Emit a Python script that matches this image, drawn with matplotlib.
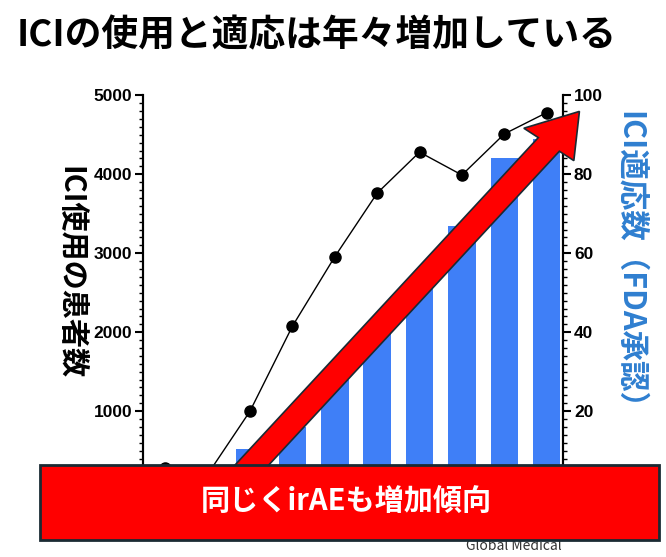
import matplotlib.pyplot as plt
from matplotlib.patches import FancyArrow, Rectangle
from matplotlib.ticker import MultipleLocator

plt.rcParams['font.family'] = ['Noto Sans CJK JP', 'DejaVu Sans']

years = list(range(10))
approvals = [1, 2, 10.4, 16, 28, 40, 52, 67, 84, 89]
patients = [280, 200, 1000, 2075, 2955, 3760, 4280, 3990, 4510, 4780]

fig = plt.figure(figsize=(6.66, 5.57), dpi=100)
ax = fig.add_axes([0.215, 0.12, 0.63, 0.709])
ax2 = ax.twinx()

ax2.bar(years, approvals, width=0.65, color='#3f7ff7', zorder=1)
ax2.set_ylim(0, 100)
ax.set_zorder(ax2.get_zorder() + 1)
ax.patch.set_visible(False)
ax.plot(years, patients, color='black', lw=1, marker='o', ms=8)
ax.set_ylim(0, 5000)
ax.set_xlim(-0.52, 9.38)
ax.set_xticks([])

ax.set_yticks([1000, 2000, 3000, 4000, 5000])
ax.yaxis.set_minor_locator(MultipleLocator(100))
ax2.yaxis.set_major_locator(MultipleLocator(20))
ax2.yaxis.set_minor_locator(MultipleLocator(2))
for a in (ax, ax2):
    a.spines['top'].set_visible(False)
    a.spines['bottom'].set_visible(False)
    a.spines['left'].set_linewidth(1.5)
    a.spines['right'].set_linewidth(1.5)
    a.tick_params(axis='y', width=1.5, length=6, pad=2)
    a.tick_params(axis='y', which='minor', width=1, length=3)
    for t in a.get_yticklabels():
        t.set_fontweight('bold')
        t.set_family('Liberation Sans')
        t.set_fontsize(12.5)

fig.text(0.025, 0.935, 'ICIの使用と適応は年々増加している', ha='left', va='center',
         fontsize=26.5, fontweight='bold')
fig.text(0.105, 0.51, 'ICI使用の患者数', rotation=-90, ha='center', va='center',
         fontsize=21, fontweight='bold')
fig.text(0.945, 0.52, 'ICI適応数（FDA承認）', rotation=-90, ha='center', va='center',
         fontsize=22, fontweight='bold', color='#2f7fd0')

fig.patches.append(FancyArrow(0.32, 0.09, 0.55, 0.71, width=0.04, head_width=0.095,
                              head_length=0.075, length_includes_head=True,
                              color='#ff0000', ec='#1a2a33', lw=1.2,
                              transform=fig.transFigure, figure=fig, zorder=5))
fig.patches.append(Rectangle((0.06, 0.03), 0.93, 0.135, transform=fig.transFigure,
                             facecolor='#ff0000', edgecolor='#1a2a33', lw=2,
                             figure=fig, zorder=6))
fig.text(0.52, 0.098, '同じくirAEも増加傾向', ha='center', va='center', fontsize=21,
         fontweight='bold', color='white', zorder=7)
fig.text(0.7, 0.008, 'Global Medical', ha='left', va='bottom', fontsize=10, color='#333333')

fig.savefig('out.png', dpi=100)
